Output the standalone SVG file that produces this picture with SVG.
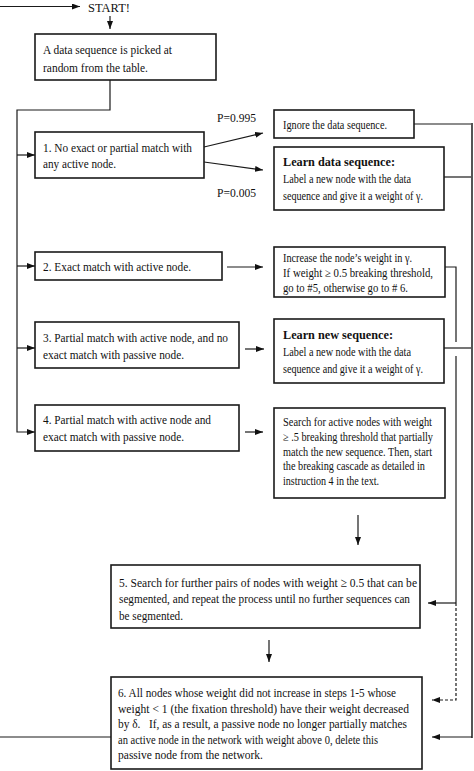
<svg xmlns="http://www.w3.org/2000/svg" width="474" height="771" viewBox="0 0 474 771">
<defs>
<marker id="ah" viewBox="0 0 8 6" refX="8" refY="3" markerWidth="8" markerHeight="6" markerUnits="userSpaceOnUse" orient="auto">
<path d="M0,0 L8,3 L0,6 Z" fill="#111"/>
</marker>
</defs>
<style>
rect.box{fill:#fff;stroke:#1a1a1a;stroke-width:1.6}
text{font-family:"Liberation Serif","Times New Roman",serif;fill:#111}
.l{font-size:13px}
.r{font-size:12px}
.b{font-size:13.5px;font-weight:bold}
.s6{font-size:12.5px}
.c{fill:none;stroke:#1a1a1a;stroke-width:1.2}
.a{marker-end:url(#ah)}
.d{stroke-dasharray:3 2}
.edge{fill:none;stroke:#555;stroke-width:2}
</style>
<rect width="474" height="771" fill="#fff"/>
<g id="connectors">
<line class="c a" x1="0" y1="6.5" x2="80" y2="6.5"/>
<line class="c a" x1="110" y1="16" x2="110" y2="29"/>
<polyline class="c a" points="110,80 110,110 17,110 17,432 35,432"/>
<line class="c a" x1="17" y1="155" x2="35" y2="155"/>
<line class="c a" x1="17" y1="266" x2="35" y2="266"/>
<line class="c a" x1="17" y1="348" x2="35" y2="348"/>
<line class="c a" x1="204" y1="147" x2="263" y2="133"/>
<line class="c a" x1="204" y1="162" x2="263" y2="170"/>
<line class="c a" x1="227" y1="267" x2="263" y2="267"/>
<line class="c a" x1="245" y1="349" x2="264" y2="349"/>
<line class="c a" x1="245" y1="432" x2="263" y2="432"/>
<line class="c a" x1="358" y1="515" x2="358" y2="545"/>
<line class="c a" x1="269" y1="640" x2="269" y2="662"/>
<line class="c" x1="414" y1="124" x2="472" y2="124"/>
<line class="c" x1="444" y1="177" x2="472" y2="177"/>
<line class="c" x1="444" y1="348" x2="472" y2="348"/>
<line class="edge" x1="472" y1="123" x2="472" y2="738"/>
<line class="c a" x1="472" y1="737" x2="432" y2="737"/>
<polyline class="c" points="445,267 456,267 456,342"/>
<line class="c" x1="456" y1="356" x2="456" y2="603"/>
<line class="c a" x1="456" y1="603" x2="428" y2="603"/>
<polyline class="c d a" points="456,603 456,700 432,700"/>
<line class="c" x1="111" y1="737" x2="0" y2="737"/>
</g>
<g id="start">
<text class="l" x="88" y="12" textLength="42" lengthAdjust="spacingAndGlyphs">START!</text>
</g>
<g id="pick">
<rect class="box" x="35" y="34" width="181" height="46"/>
<text class="l" x="43" y="54" textLength="129" lengthAdjust="spacingAndGlyphs">A data sequence is picked at</text>
<text class="l" x="43" y="72" textLength="105" lengthAdjust="spacingAndGlyphs">random from the table.</text>
</g>
<g id="step1">
<rect class="box" x="35" y="132" width="169" height="46"/>
<text class="l" x="43" y="152" textLength="149" lengthAdjust="spacingAndGlyphs">1. No exact or partial match with</text>
<text class="l" x="43" y="168" textLength="73" lengthAdjust="spacingAndGlyphs">any active node.</text>
</g>
<g id="p-labels">
<text class="r" x="217" y="122" textLength="39" lengthAdjust="spacingAndGlyphs">P=0.995</text>
<text class="r" x="217" y="197" textLength="39" lengthAdjust="spacingAndGlyphs">P=0.005</text>
</g>
<g id="ignore">
<rect class="box" x="274" y="110" width="140" height="28"/>
<text class="r" x="283" y="129" textLength="104" lengthAdjust="spacingAndGlyphs">Ignore the data sequence.</text>
</g>
<g id="learn-data">
<rect class="box" x="274" y="147" width="170" height="63"/>
<text class="b" x="283" y="166" textLength="112" lengthAdjust="spacingAndGlyphs">Learn data sequence:</text>
<text class="r" x="283" y="183" textLength="128" lengthAdjust="spacingAndGlyphs">Label a new node with the data</text>
<text class="r" x="283" y="200" textLength="140" lengthAdjust="spacingAndGlyphs">sequence and give it a weight of γ.</text>
</g>
<g id="step2">
<rect class="box" x="35" y="252" width="187" height="28"/>
<text class="l" x="43" y="271" textLength="148" lengthAdjust="spacingAndGlyphs">2. Exact match with active node.</text>
</g>
<g id="increase">
<rect class="box" x="274" y="247" width="171" height="50"/>
<text class="r" x="283" y="262" textLength="129" lengthAdjust="spacingAndGlyphs">Increase the node’s weight in γ.</text>
<text class="r" x="283" y="277" textLength="150" lengthAdjust="spacingAndGlyphs">If weight ≥ 0.5 breaking threshold,</text>
<text class="r" x="283" y="292" textLength="125" lengthAdjust="spacingAndGlyphs">go to #5, otherwise go to # 6.</text>
</g>
<g id="step3">
<rect class="box" x="35" y="322" width="204" height="46"/>
<text class="l" x="43" y="342" textLength="185" lengthAdjust="spacingAndGlyphs">3. Partial match with active node, and no</text>
<text class="l" x="43" y="359" textLength="141" lengthAdjust="spacingAndGlyphs">exact match with passive node.</text>
</g>
<g id="learn-new">
<rect class="box" x="274" y="319" width="170" height="64"/>
<text class="b" x="283" y="339" textLength="110" lengthAdjust="spacingAndGlyphs">Learn new sequence:</text>
<text class="r" x="283" y="356" textLength="128" lengthAdjust="spacingAndGlyphs">Label a new node with the data</text>
<text class="r" x="283" y="372.5" textLength="140" lengthAdjust="spacingAndGlyphs">sequence and give it a weight of γ.</text>
</g>
<g id="step4">
<rect class="box" x="35" y="405" width="204" height="46"/>
<text class="l" x="43" y="424" textLength="168" lengthAdjust="spacingAndGlyphs">4. Partial match with active node and</text>
<text class="l" x="43" y="441" textLength="141" lengthAdjust="spacingAndGlyphs">exact match with passive node.</text>
</g>
<g id="search">
<rect class="box" x="274" y="408" width="171" height="90"/>
<text class="r" x="283" y="426" textLength="149" lengthAdjust="spacingAndGlyphs">Search for active nodes with weight</text>
<text class="r" x="283" y="441" textLength="150" lengthAdjust="spacingAndGlyphs">≥ .5 breaking threshold that partially</text>
<text class="r" x="283" y="455.5" textLength="149" lengthAdjust="spacingAndGlyphs">match the new sequence. Then, start</text>
<text class="r" x="283" y="470" textLength="142" lengthAdjust="spacingAndGlyphs">the breaking cascade as detailed in</text>
<text class="r" x="283" y="485" textLength="96" lengthAdjust="spacingAndGlyphs">instruction 4 in the text.</text>
</g>
<g id="step5">
<rect class="box" x="111" y="565" width="309" height="63"/>
<text class="l" x="119" y="586.5" textLength="298" lengthAdjust="spacingAndGlyphs">5. Search for further pairs of nodes with weight ≥ 0.5 that can be</text>
<text class="l" x="119" y="603" textLength="291" lengthAdjust="spacingAndGlyphs">segmented, and repeat the process until no further sequences can</text>
<text class="l" x="119" y="619.5" textLength="64" lengthAdjust="spacingAndGlyphs">be segmented.</text>
</g>
<g id="step6">
<rect class="box" x="111" y="677" width="311" height="92"/>
<text class="s6" x="118" y="697" textLength="278" lengthAdjust="spacingAndGlyphs">6. All nodes whose weight did not increase in steps 1-5 whose</text>
<text class="s6" x="118" y="712.5" textLength="291" lengthAdjust="spacingAndGlyphs">weight &lt; 1 (the fixation threshold) have their weight decreased</text>
<text class="s6" x="118" y="728" textLength="289" lengthAdjust="spacingAndGlyphs">by δ.&#160;&#160; If, as a result, a passive node no longer partially matches</text>
<text class="s6" x="118" y="743.5" textLength="260" lengthAdjust="spacingAndGlyphs">an active node in the network with weight above 0, delete this</text>
<text class="s6" x="118" y="759" textLength="145" lengthAdjust="spacingAndGlyphs">passive node from the network.</text>
</g>
</svg>
